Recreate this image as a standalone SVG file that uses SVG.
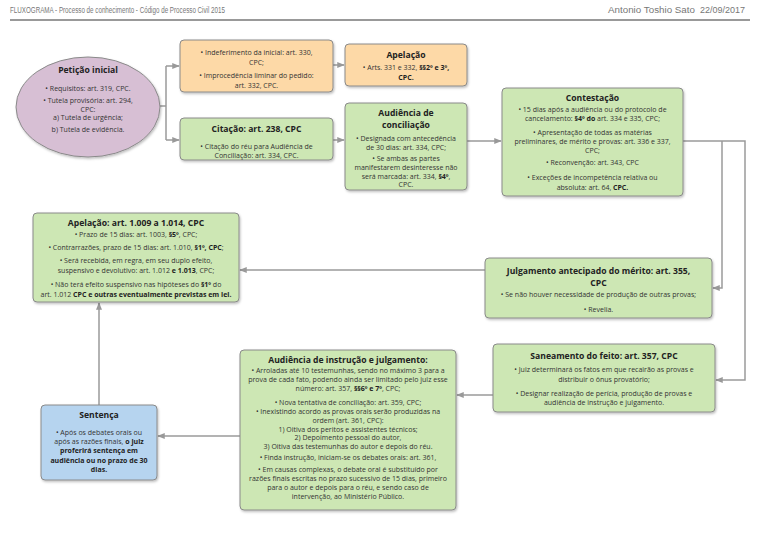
<svg xmlns="http://www.w3.org/2000/svg" width="768" height="543" viewBox="0 0 768 543">
<defs>
<filter id="sh" x="-10%" y="-10%" width="120%" height="130%"><feDropShadow dx="1" dy="1.5" stdDeviation="1" flood-color="#000" flood-opacity="0.25"/></filter>
<marker id="ar" viewBox="0 0 10 10" refX="9" refY="5" markerWidth="5" markerHeight="5" orient="auto"><path d="M0,1 L10,5 L0,9 z" fill="#999"/></marker>
<style>
.t{font-family:"Open Sans","Liberation Sans",Arial,sans-serif;font-size:7px;fill:#333;text-anchor:middle}
.h{font-size:8.6px;font-weight:bold;fill:#222}
.b{font-weight:bold;fill:#222}
.box{stroke:#8a8a8a;stroke-width:1;filter:url(#sh)}
.g{fill:#cde7b4}
.o{fill:#fdd9a7}
.bl{fill:#b6d4ef}
.m{fill:#d7bfd4}
.c{stroke:#9a9a9a;stroke-width:1.5;fill:none}
.hd{font-family:"Liberation Sans",Arial,sans-serif;font-size:8.5px;fill:#777}
</style>
</defs>
<rect width="768" height="543" fill="#fff"/>
<g id="header">
<text class="hd" x="10" y="13" textLength="215" lengthAdjust="spacingAndGlyphs">FLUXOGRAMA - Processo de conhecimento - Código de Processo Civil 2015</text>
<text class="hd" x="608" y="13" textLength="87" lengthAdjust="spacingAndGlyphs">Antonio Toshio Sato</text>
<text class="hd" x="700" y="13" textLength="45" lengthAdjust="spacingAndGlyphs">22/09/2017</text>
<line x1="10" y1="20" x2="750" y2="20" stroke="#999" stroke-width="2"/>
</g>
<g id="connectors">
<path class="c" d="M160,106 H166 M166,66 V140"/>
<path class="c" d="M166,66 H179" marker-end="url(#ar)"/>
<path class="c" d="M166,140 H179" marker-end="url(#ar)"/>
<path class="c" d="M333,65 H344" marker-end="url(#ar)"/>
<path class="c" d="M333,140 H344" marker-end="url(#ar)"/>
<path class="c" d="M467,141 H501" marker-end="url(#ar)"/>
<path class="c" d="M683,141 H745 V380 H716" marker-end="url(#ar)"/>
<path class="c" d="M722,141 V288 H713" marker-end="url(#ar)"/>
<path class="c" d="M485,270 H240" marker-end="url(#ar)"/>
<path class="c" d="M493,395 H457" marker-end="url(#ar)"/>
<path class="c" d="M240,436 H158" marker-end="url(#ar)"/>
<path class="c" d="M99,405 V303" marker-end="url(#ar)"/>
</g>
<g id="peticao">
<ellipse class="box m" cx="88" cy="107" rx="72" ry="50"/>
<text class="t h" x="88" y="73">Petição inicial</text>
<text class="t" x="88" y="90.5">• Requisitos: art. 319, CPC.</text>
<text class="t" x="88" y="103">• Tutela provisória: art. 294,</text>
<text class="t" x="88" y="111.5">CPC:</text>
<text class="t" x="88" y="120">a) Tutela de urgência;</text>
<text class="t" x="88" y="132">b) Tutela de evidência.</text>
</g>
<g id="indeferimento">
<rect class="box o" x="180" y="40" width="153" height="52" rx="4"/>
<text class="t" x="256.5" y="54.5">• Indeferimento da inicial: art. 330,</text>
<text class="t" x="256.5" y="64.5">CPC;</text>
<text class="t" x="256.5" y="77.5">• Improcedência liminar do pedido:</text>
<text class="t" x="256.5" y="87.5">art. 332, CPC.</text>
</g>
<g id="apelacao1">
<rect class="box o" x="345" y="44" width="122" height="42" rx="4"/>
<text class="t h" x="406" y="58">Apelação</text>
<text class="t" x="406" y="69.5">• Arts. 331 e 332, <tspan class="b">§§2º e 3º,</tspan></text>
<text class="t b" x="406" y="79.5">CPC.</text>
</g>
<g id="citacao">
<rect class="box g" x="180" y="118" width="153" height="42" rx="4"/>
<text class="t h" x="256.5" y="132">Citação: art. 238, CPC</text>
<text class="t" x="256.5" y="148.5">• Citação do réu para Audiência de</text>
<text class="t" x="256.5" y="157.5">Conciliação: art. 334, CPC.</text>
</g>
<g id="conciliacao">
<rect class="box g" x="345" y="103" width="122" height="87" rx="4"/>
<text class="t h" x="406" y="116">Audiência de</text>
<text class="t h" x="406" y="128">conciliação</text>
<text class="t" x="406" y="140.5">• Designada com antecedência</text>
<text class="t" x="406" y="149.5">de 30 dias: art. 334, CPC;</text>
<text class="t" x="406" y="160.5">• Se ambas as partes</text>
<text class="t" x="406" y="169.5">manifestarem desinteresse  não</text>
<text class="t" x="406" y="178.5">será marcada: art. 334,  <tspan class="b">§4º</tspan>,</text>
<text class="t" x="406" y="187">CPC.</text>
</g>
<g id="contestacao">
<rect class="box g" x="502" y="88" width="181" height="108" rx="4"/>
<text class="t h" x="592.5" y="101">Contestação</text>
<text class="t" x="592.5" y="111.5">• 15 dias após a audiência ou do protocolo de</text>
<text class="t" x="592.5" y="120.5">cancelamento: <tspan class="b">§4º do</tspan> art. 334 e 335, CPC;</text>
<text class="t" x="592.5" y="134.5">• Apresentação de todas as matérias</text>
<text class="t" x="592.5" y="143.5">preliminares, de mérito e provas: art. 336 e 337,</text>
<text class="t" x="592.5" y="152.5">CPC;</text>
<text class="t" x="592.5" y="164.5">• Reconvenção: art. 343, CPC</text>
<text class="t" x="592.5" y="179.5">• Exceções de incompetência relativa ou</text>
<text class="t" x="592.5" y="189.5">absoluta: art. 64, <tspan class="b">CPC.</tspan></text>
</g>
<g id="apelacao2">
<rect class="box g" x="33" y="213" width="206" height="89" rx="4"/>
<text class="t h" x="136" y="226">Apelação: art. 1.009 a 1.014, CPC</text>
<text class="t" x="136" y="236.5">• Prazo de 15 dias: art. 1003, <tspan class="b">§5º</tspan>, CPC;</text>
<text class="t" x="136" y="249.5">• Contrarrazões, prazo de 15 dias: art. 1.010, <tspan class="b">§1º, CPC</tspan>;</text>
<text class="t" x="136" y="262.5">• Será recebida, em regra, em seu duplo efeito,</text>
<text class="t" x="136" y="272.5">suspensivo e devolutivo: art. 1.012 <tspan class="b">e 1.013</tspan>, CPC;</text>
<text class="t" x="136" y="286.5">• Não terá efeito suspensivo nas hipóteses do <tspan class="b">§1º</tspan> do</text>
<text class="t" x="136" y="296.5">art. 1.012 <tspan class="b">CPC e outras eventualmente previstas em lei.</tspan></text>
</g>
<g id="julgamento">
<rect class="box g" x="485" y="258" width="227" height="60" rx="4"/>
<text class="t h" x="598.5" y="274">Julgamento antecipado do mérito: art. 355,</text>
<text class="t h" x="598.5" y="286">CPC</text>
<text class="t" x="598.5" y="296.5">• Se não houver necessidade de produção de outras provas;</text>
<text class="t" x="598.5" y="311.5">• Revelia.</text>
</g>
<g id="saneamento">
<rect class="box g" x="493" y="344" width="222" height="68" rx="4"/>
<text class="t h" x="604" y="359">Saneamento do feito: art. 357, CPC</text>
<text class="t" x="604" y="371.5">• Juiz determinará os fatos em que recairão as provas e</text>
<text class="t" x="604" y="381.5">distribuir o ônus provatório;</text>
<text class="t" x="604" y="395.5">• Designar realização de perícia, produção de provas e</text>
<text class="t" x="604" y="404.5">audiência de instrução e julgamento.</text>
</g>
<g id="instrucao">
<rect class="box g" x="240" y="350" width="216" height="160" rx="4"/>
<text class="t h" x="348" y="363">Audiência de instrução e julgamento:</text>
<text class="t" x="348" y="372.5">• Arroladas até 10 testemunhas, sendo no máximo 3 para a</text>
<text class="t" x="348" y="381.5">prova de cada fato, podendo ainda ser limitado pelo juiz esse</text>
<text class="t" x="348" y="391">número: art. 357,  <tspan class="b">§§6º e 7º</tspan>, CPC;</text>
<text class="t" x="348" y="404.5">• Nova tentativa de conciliação: art. 359, CPC;</text>
<text class="t" x="348" y="413.5">• Inexistindo acordo as provas orais serão produzidas na</text>
<text class="t" x="348" y="422.5">ordem (art. 361, CPC):</text>
<text class="t" x="348" y="431.5">1) Oitiva dos peritos e assistentes técnicos;</text>
<text class="t" x="348" y="439.5">2) Depoimento pessoal do autor,</text>
<text class="t" x="348" y="448.5">3) Oitiva das testemunhas do autor e depois do réu.</text>
<text class="t" x="348" y="459.5">• Finda instrução, iniciam-se os debates orais: art. 361,</text>
<text class="t" x="348" y="471.5">• Em causas complexas, o debate oral é substituído por</text>
<text class="t" x="348" y="480.5">razões finais escritas no prazo sucessivo de 15 dias, primeiro</text>
<text class="t" x="348" y="489.5">para o autor e depois para o réu, e sendo caso de</text>
<text class="t" x="348" y="498.5">intervenção, ao Ministério Público.</text>
</g>
<g id="sentenca">
<rect class="box bl" x="41" y="405" width="116" height="75" rx="4"/>
<text class="t h" x="99" y="418">Sentença</text>
<text class="t" x="99" y="434.5">• Após os debates orais ou</text>
<text class="t" x="99" y="443.5">após as razões finais, <tspan class="b">o juiz</tspan></text>
<text class="t b" x="99" y="452.5">proferirá sentença  em</text>
<text class="t b" x="99" y="462.5">audiência ou no prazo de 30</text>
<text class="t b" x="99" y="471.5">dias.</text>
</g>
</svg>
